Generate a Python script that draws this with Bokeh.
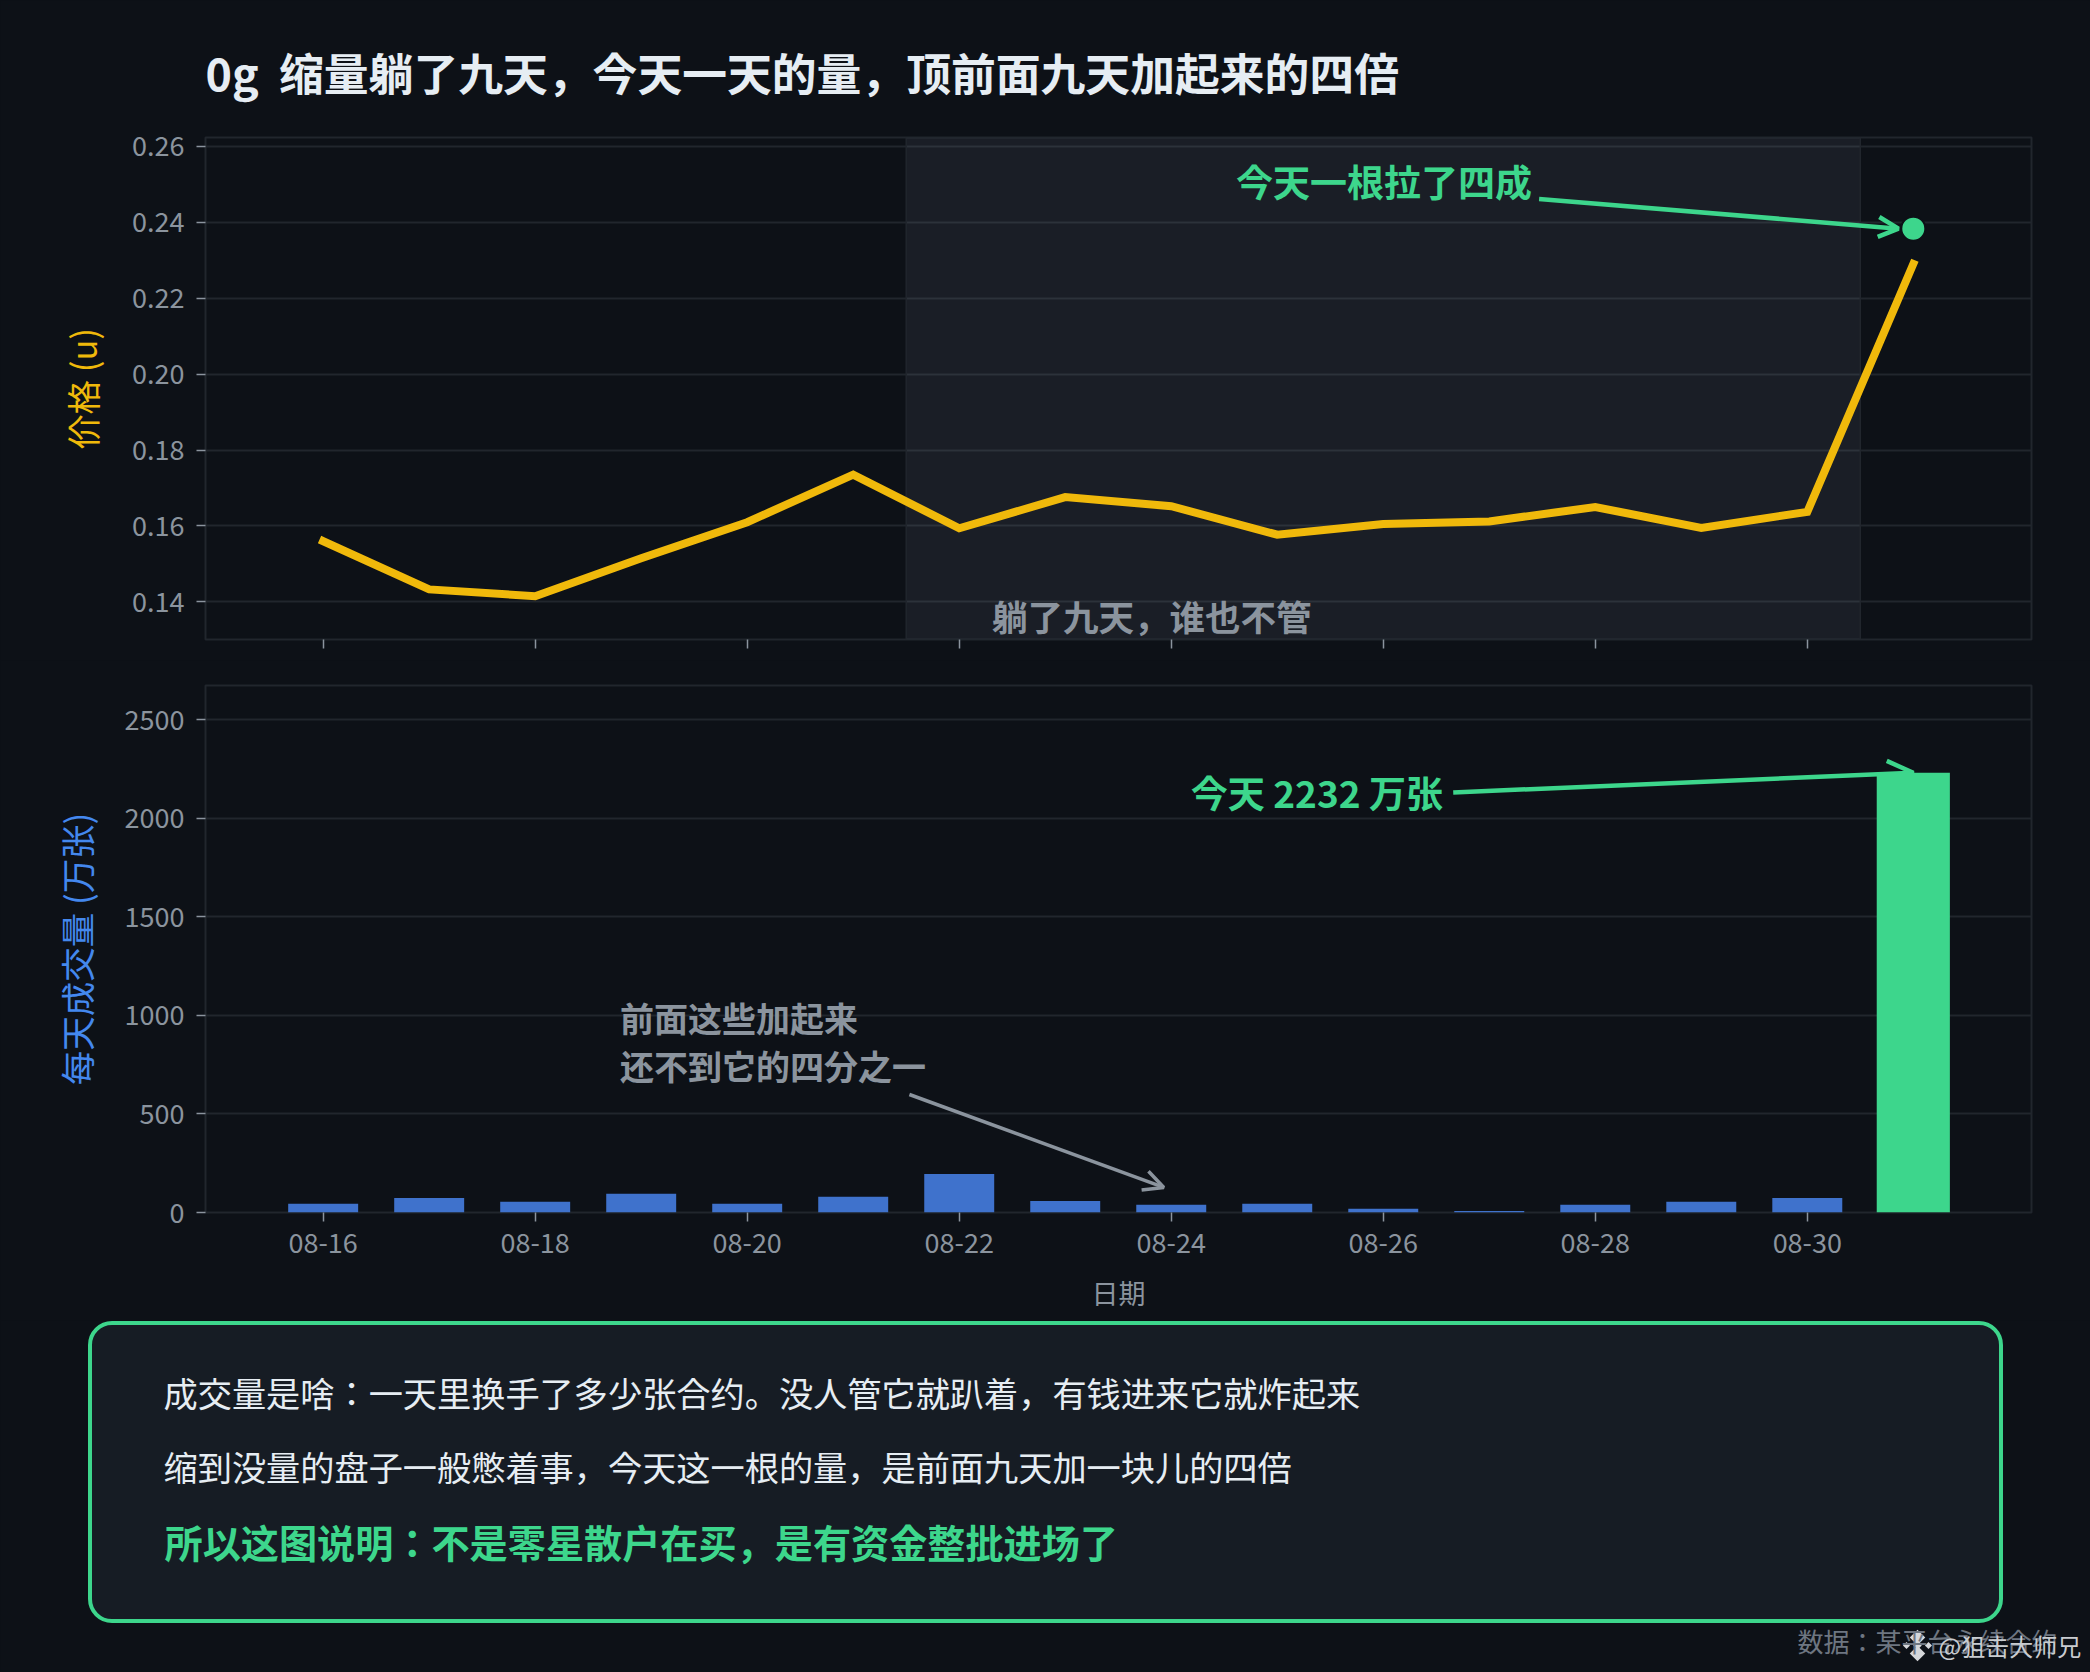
from math import pi

from bokeh.embed import file_html
from bokeh.resources import INLINE
from bokeh.layouts import column
from bokeh.models import (Arrow, BoxAnnotation, FixedTicker, Label, OpenHead, Range1d)
from bokeh.plotting import figure

# ---- data ----
dates = ["08-16", "08-17", "08-18", "08-19", "08-20", "08-21", "08-22", "08-23",
         "08-24", "08-25", "08-26", "08-27", "08-28", "08-29", "08-30", "08-31"]
days = list(range(len(dates)))
price = [0.156, 0.1433, 0.1415, 0.1515, 0.161, 0.1735, 0.1594, 0.1676,
         0.1652, 0.1577, 0.1605, 0.1612, 0.165, 0.1595, 0.1637, 0.229]
volume = [44, 74, 54, 95, 44, 80, 196, 59, 39, 44, 19, 8, 39, 54, 74, 2232]
peak_marker = 0.2383
price_ticks = [0.14, 0.16, 0.18, 0.20, 0.22, 0.24, 0.26]
volume_ticks = [0, 500, 1000, 1500, 2000, 2500]
date_ticks = [0, 2, 4, 6, 8, 10, 12, 14]
quiet_span = (5.5, 14.5)

title_text = "0g\u00a0\u00a0缩量躺了九天，今天一天的量，顶前面九天加起来的四倍"
note_lines = ["成交量是啥：一天里换手了多少张合约。没人管它就趴着，有钱进来它就炸起来",
              "缩到没量的盘子一般憋着事，今天这一根的量，是前面九天加一块儿的四倍",
              "所以这图说明：不是零星散户在买，是有资金整批进场了"]

# ---- style ----
BG = "#0d1117"
GRID = "#21262d"
MUTED = "#8b949e"
GREEN = "#3dd68c"
YELLOW = "#f0b90b"
BLUE = "#4488ee"
BAR = "#3f72cc"
LIGHT = "#e6edf3"
FONT = "Noto Sans CJK JP"
W = 2090
X_RANGE = (-1.11, 16.115)
PAGE_STYLE = {"background-color": BG}


def base_figure(height, top, bottom, y_range, ticks):
    p = figure(width=W, height=height, x_range=Range1d(*X_RANGE), y_range=Range1d(*y_range),
               output_backend="svg", toolbar_location=None,
               min_border_left=205, min_border_right=59, min_border_top=top, min_border_bottom=bottom,
               background_fill_color=BG, border_fill_color=BG,
               outline_line_color=GRID, outline_line_width=2, styles=PAGE_STYLE)
    p.xgrid.visible = False
    p.ygrid.grid_line_color = GRID
    p.ygrid.grid_line_width = 2
    p.ygrid.ticker = FixedTicker(ticks=ticks)
    p.yaxis.ticker = FixedTicker(ticks=ticks)
    p.xaxis.ticker = FixedTicker(ticks=date_ticks)
    for ax in (p.xaxis[0], p.yaxis[0]):
        ax.axis_line_color = None
        ax.major_tick_line_color = MUTED
        ax.major_tick_line_width = 1.5
        ax.major_tick_in = 0
        ax.major_tick_out = 9
        ax.minor_tick_line_color = None
        ax.major_label_text_color = MUTED
        ax.major_label_text_font = FONT
        ax.major_label_text_font_size = "27px"
        ax.major_label_standoff = 12
        ax.axis_label_text_font = FONT
        ax.axis_label_text_font_style = "normal"
    return p


def note(p, x, y, text, color, size, bold=True):
    p.add_layout(Label(x=x, y=y, text=text, text_color=color, text_font=FONT,
                       text_font_size=f"{size}px", text_font_style="bold" if bold else "normal",
                       text_baseline="middle", text_align="left"))


# ---- price panel ----
top = base_figure(660, 137, 21, (0.1301, 0.2623), price_ticks)
top.title.text = title_text
top.title.text_color = LIGHT
top.title.text_font = FONT
top.title.text_font_size = "44.8px"
top.title.text_font_style = "bold"
top.title.align = "left"
top.title.standoff = 68
top.xaxis.major_label_text_font_size = "10px"
top.xaxis.major_label_standoff = 0
top.xaxis.major_label_overrides = {d: "" for d in date_ticks}
top.yaxis.major_label_overrides = {t: f"{t:.2f}" for t in price_ticks}
top.yaxis.axis_label = "价格 (u)"
top.yaxis.axis_label_text_color = YELLOW
top.yaxis.axis_label_text_font_size = "34.5px"
top.yaxis.axis_label_standoff = 22

top.add_layout(BoxAnnotation(left=quiet_span[0], right=quiet_span[1], fill_color="#b8c4e0", fill_alpha=0.075,
                             line_color=GRID, line_alpha=1, line_width=1.5, level="underlay"))
top.line(days, price, line_color=YELLOW, line_width=8, line_join="miter", line_cap="square")
top.scatter([days[-1]], [peak_marker], size=24, fill_color=GREEN, line_color=BG, line_width=2)
top.add_layout(Arrow(end=OpenHead(line_color=GREEN, line_width=4.5, size=20), x_start=11.47, y_start=0.2461,
                     x_end=14.86, y_end=0.2383, line_color=GREEN, line_width=4.5))
note(top, 8.61, 0.2508, "今天一根拉了四成", GREEN, 37)
note(top, 6.31, 0.1364, "躺了九天，谁也不管", MUTED, 35.5)

# ---- volume panel ----
bottom = base_figure(660, 25, 108, (0, 2675), volume_ticks)
bottom.xaxis.major_label_overrides = {d: dates[d] for d in date_ticks}
bottom.xaxis.major_label_standoff = 11
bottom.xaxis.axis_label = "日期"
bottom.xaxis.axis_label_text_color = MUTED
bottom.xaxis.axis_label_text_font_size = "27px"
bottom.xaxis.axis_label_standoff = 17
bottom.yaxis.axis_label = "每天成交量 (万张)"
bottom.yaxis.axis_label_text_color = BLUE
bottom.yaxis.axis_label_text_font_size = "34.5px"
bottom.yaxis.axis_label_standoff = 21

bottom.add_layout(Arrow(end=OpenHead(line_color=GREEN, line_width=4.5, size=26), x_start=10.66, y_start=2132,
                        x_end=days[-1], y_end=volume[-1], line_color=GREEN, line_width=4.5, level="underlay"))
bottom.vbar(x=days[:-1], top=volume[:-1], width=0.66, bottom=0, fill_color=BAR, line_color=None)
bottom.vbar(x=days[-1:], top=volume[-1:], width=0.69, bottom=0, fill_color=GREEN, line_color=None)
bottom.add_layout(Arrow(end=OpenHead(line_color=MUTED, line_width=3.5, size=20), x_start=5.53, y_start=599,
                        x_end=7.93, y_end=127, line_color=MUTED, line_width=3.5))
note(bottom, 8.185, 2132, "今天 2232 万张", GREEN, 37)
note(bottom, 2.80, 988, "前面这些加起来", MUTED, 34)
note(bottom, 2.80, 746, "还不到它的四分之一", MUTED, 34)

# ---- explanation box, footer and watermark: axes in page pixels ----
foot = figure(width=W, height=352, x_range=Range1d(0, W), y_range=Range1d(1672, 1320),
              output_backend="svg", toolbar_location=None, min_border=0,
              background_fill_color=BG, border_fill_color=BG, outline_line_color=None, styles=PAGE_STYLE)
foot.axis.visible = False
foot.grid.visible = False
foot.add_layout(BoxAnnotation(left=89.5, right=2000.5, top=1322.5, bottom=1620.5, fill_color="#161c24", fill_alpha=1,
                              line_color=GREEN, line_alpha=1, line_width=4, border_radius=22))
note(foot, 163, 1391, note_lines[0], LIGHT, 34.2, bold=False)
note(foot, 163, 1465, note_lines[1], LIGHT, 34.2, bold=False)
note(foot, 164, 1541, note_lines[2], GREEN, 38.15)
note(foot, 1797, 1640, "数据：某平台永续合约", "#6e7681", 26, bold=False)
note(foot, 1938, 1645, "@狙击大师兄", "#c9ccd0", 24, bold=False)
logo_x = [1917, 1917, 1906, 1928, 1917]
logo_y = [1637, 1653, 1645, 1645, 1645]
logo_s = [11, 11, 5, 5, 6]
foot.scatter(logo_x, logo_y, marker="square", angle=pi / 4, size=logo_s, fill_color="#d5d7da", line_color=None)

charts = column(top, bottom, spacing=0, styles=PAGE_STYLE)
p = column(charts, foot, spacing=0,
           styles={"position": "fixed", "left": "0px", "top": "0px", "background-color": BG})
open("out.html", "w").write(file_html(p, INLINE))
